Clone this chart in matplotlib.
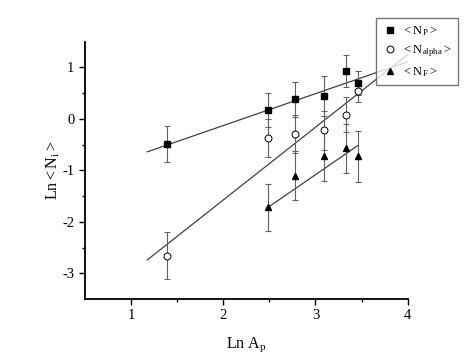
import numpy as np
import matplotlib.pyplot as plt
from matplotlib.lines import Line2D

plt.rcParams['font.family'] = ['Liberation Serif', 'DejaVu Serif']
plt.rcParams['mathtext.fontset'] = 'custom'
plt.rcParams['mathtext.rm'] = 'Liberation Serif'
plt.rcParams['mathtext.it'] = 'Liberation Serif'
plt.rcParams['axes.unicode_minus'] = False

# data
x_p = [1.386, 2.485, 2.773, 3.091, 3.332, 3.466]
y_p = [-0.49, 0.18, 0.38, 0.44, 0.93, 0.70]
e_p = [0.35, 0.33, 0.34, 0.39, 0.31, 0.23]

x_a = [1.386, 2.485, 2.773, 3.091, 3.332, 3.466]
y_a = [-2.66, -0.38, -0.30, -0.22, 0.08, 0.545]
e_a = [0.46, 0.37, 0.37, 0.38, 0.34, 0.21]

x_f = [2.485, 2.773, 3.091, 3.332, 3.466]
y_f = [-1.72, -1.10, -0.73, -0.57, -0.73]
e_f = [0.46, 0.47, 0.47, 0.48, 0.50]

# fit lines (end points)
fit_p_x = [1.176, 4.0]
fit_p_y = [-0.64, 1.11]
fit_a_x = [1.176, 4.0]
fit_a_y = [-2.74, 1.25]
fit_f_x = [2.485, 3.466]
fit_f_y = [-1.72, -0.51]

labels = [r'$<$N$_{\rm P}$$>$', r'$<$N$_{\rm alpha}$$>$', r'$<$N$_{\rm F}$$>$']

fig = plt.figure(figsize=(4.74, 3.58), dpi=100)
ax = fig.add_axes([0.1793, 0.1648, 0.6807, 0.7187])

ecol = '#606060'
ax.plot(fit_p_x, fit_p_y, color='#404040', lw=0.9, zorder=2)
ax.plot(fit_a_x, fit_a_y, color='#404040', lw=0.9, zorder=2)
ax.plot(fit_f_x, fit_f_y, color='#404040', lw=0.9, zorder=2)

ax.errorbar(x_p, y_p, yerr=e_p, fmt='s', color='black', ms=4, ecolor=ecol,
            elinewidth=0.8, capsize=2.5, capthick=0.8, zorder=3)
ax.errorbar(x_a, y_a, yerr=e_a, fmt='o', color='black', mfc='white', mec='black', mew=0.7,
            ms=5, ecolor=ecol, elinewidth=0.8, capsize=2.5, capthick=0.8, zorder=3)
ax.errorbar(x_f, y_f, yerr=e_f, fmt='^', color='black', ms=5, ecolor=ecol,
            elinewidth=0.8, capsize=2.5, capthick=0.8, zorder=3)

ax.set_xlim(0.5, 4)
ax.set_ylim(-3.5, 1.5)
ax.set_xticks([1, 2, 3, 4])
ax.set_xticks([1.5, 2.5, 3.5], minor=True)
ax.set_yticks([-3, -2, -1, 0, 1])
ax.set_yticks([-2.5, -1.5, -0.5, 0.5], minor=True)
ax.spines['top'].set_visible(False)
ax.spines['right'].set_visible(False)
ax.spines['left'].set_linewidth(1.3)
ax.spines['bottom'].set_linewidth(1.3)
ax.tick_params(which='major', length=4, width=1, labelsize=10.5)
ax.tick_params(which='minor', length=2.5, width=1)

ax.set_xlabel(r'Ln A$_{\rm p}$', fontsize=11.5, labelpad=9)
ax.set_ylabel(r'Ln$<$N$_{\rm i}$$>$', fontsize=11.5, labelpad=0)

handles = [
    Line2D([], [], ls='none', marker='s', color='black', ms=4),
    Line2D([], [], ls='none', marker='o', mfc='white', mec='black', mew=0.7, ms=5),
    Line2D([], [], ls='none', marker='^', color='black', ms=5),
]
leg = ax.legend(handles, labels, loc='upper left', bbox_to_anchor=(376 / 474, 1 - 18 / 358),
                bbox_transform=fig.transFigure, frameon=True, fancybox=False,
                edgecolor='#555555', fontsize=9, handletextpad=0.4, borderpad=0.5,
                labelspacing=0.45, handlelength=1.2, borderaxespad=0)
leg.get_frame().set_linewidth(1.0)
leg.set_zorder(5)

fig.savefig('out.png', dpi=100)
